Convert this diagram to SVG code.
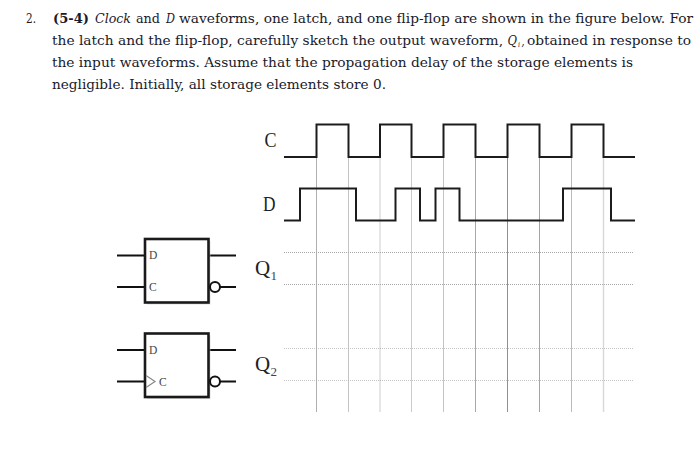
<svg xmlns="http://www.w3.org/2000/svg" width="697" height="453" viewBox="0 0 697 453">
<style>
.t{font-family:"DejaVu Serif Condensed","DejaVu Serif","Liberation Serif",serif;font-stretch:condensed;font-size:13.8px;fill:#1a1a2a}
.i{font-style:italic}.b{font-weight:bold}
.l{font-family:"Liberation Serif","Times New Roman",serif;fill:#222}
.s{font-size:20px}.q{font-size:21px}.u{font-size:13px;fill:#444}.p{font-size:11.5px;fill:#444}
.w{fill:none;stroke:#1c1c1c;stroke-width:2}
.o{fill:none;stroke:#a8a8a8;stroke-width:1;stroke-dasharray:1 1}
.k{fill:#fff;stroke:#1a1a1a;stroke-width:2.6}
.x{fill:none;stroke:#111;stroke-width:2}
.c{fill:#fff;stroke:#111;stroke-width:2}
</style>
<rect width="697" height="453" fill="#fff"/>
<g id="question">
<text class="t" x="26" y="23" textLength="10" lengthAdjust="spacingAndGlyphs">2.</text>
<text class="t b" x="53" y="23" textLength="36" lengthAdjust="spacingAndGlyphs">(5-4)</text>
<text class="t i" x="95" y="23" textLength="36" lengthAdjust="spacingAndGlyphs">Clock</text>
<text class="t" x="136" y="23" textLength="24" lengthAdjust="spacingAndGlyphs">and</text>
<text class="t i" x="166" y="23" textLength="9" lengthAdjust="spacingAndGlyphs">D</text>
<text class="t" x="179" y="23" textLength="514" lengthAdjust="spacingAndGlyphs">waveforms, one latch, and one flip-flop are shown in the figure below. For</text>
<text class="t" x="52" y="45" textLength="451" lengthAdjust="spacingAndGlyphs">the latch and the flip-flop, carefully sketch the output waveform,</text>
<text class="t i" x="507.5" y="45" textLength="9.5" lengthAdjust="spacingAndGlyphs">Q</text>
<text class="t i" x="518" y="47" style="font-size:7px">i</text>
<text class="t i" x="521.5" y="45" textLength="3" lengthAdjust="spacingAndGlyphs">,</text>
<text class="t" x="527" y="45" textLength="164" lengthAdjust="spacingAndGlyphs">obtained in response to</text>
<text class="t" x="52" y="67" textLength="581" lengthAdjust="spacingAndGlyphs">the input waveforms. Assume that the propagation delay of the storage elements is</text>
<text class="t" x="52" y="89" textLength="334" lengthAdjust="spacingAndGlyphs">negligible. Initially, all storage elements store 0.</text>
</g>
<g id="grid" fill="none">
<path stroke="#b0b0b0" d="M316.5 157V412"/>
<path stroke="#c4c4c4" d="M348.5 157V412"/>
<path stroke="#e0e0e0" stroke-width="1.6" d="M380 157V412"/>
<path stroke="#cccccc" d="M411.5 157V412"/>
<path stroke="#c4c4c4" d="M443.5 157V412"/>
<path stroke="#a8a8a8" d="M475.5 157V412"/>
<path stroke="#909090" d="M507.5 157V412"/>
<path stroke="#a4a4a4" d="M539.5 157V412"/>
<path stroke="#bbbbbb" d="M571.5 157V412"/>
<path stroke="#d8d8d8" stroke-width="1.4" d="M603.5 157V412"/>
<path class="o" d="M284 252.5H633M284 284.5H633"/>
<path class="o" opacity="0.65" d="M284 348.5H633M284 380.5H633"/>
</g>
<g id="waveforms">
<path class="w" d="M284 157H316.5V124.5H348.5V157H380V124.5H411.5V157H443.5V124.5H475.5V157H507.5V124.5H539.5V157H571.5V124.5H603.5V157H635"/>
<path class="w" d="M284 220.5H300V188.5H356V220.5H395.5V188.5H420V220.5H435.5V188.5H459.5V220.5H563V188.5H611V220.5H635"/>
</g>
<g id="labels">
<text class="l s" x="264.5" y="147" textLength="12" lengthAdjust="spacingAndGlyphs">C</text>
<text class="l s" x="263" y="211" textLength="12.5" lengthAdjust="spacingAndGlyphs">D</text>
<text class="l q" x="255" y="275">Q</text><text class="l u" x="270.5" y="279.5">1</text>
<text class="l q" x="255" y="371">Q</text><text class="l u" x="270.5" y="375.5">2</text>
</g>
<g id="latch">
<path class="x" d="M117 255.5H145M117 287H145M208 255.5H236M220 287H236"/>
<rect x="147" y="241" width="63.5" height="63.5" fill="#ccc" opacity="0.6"/>
<rect class="k" x="145" y="239" width="63.5" height="63.5"/>
<circle class="c" cx="215" cy="287" r="5"/>
<text class="l p" x="149" y="259">D</text>
<text class="l p" x="149" y="291">C</text>
</g>
<g id="flipflop">
<path class="x" d="M117 350H145M117 381.5H145M208 350H236M220 381.5H236"/>
<rect x="147" y="335.5" width="63.5" height="63.5" fill="#ccc" opacity="0.6"/>
<rect class="k" x="145" y="333.5" width="63.5" height="63.5"/>
<circle class="c" cx="215" cy="381.5" r="5"/>
<path d="M146 375.5L155 381.5L146 387.5" fill="none" stroke="#888" stroke-width="1.2"/>
<text class="l p" x="149" y="354">D</text>
<text class="l p" x="159" y="385.5">C</text>
</g>
</svg>
